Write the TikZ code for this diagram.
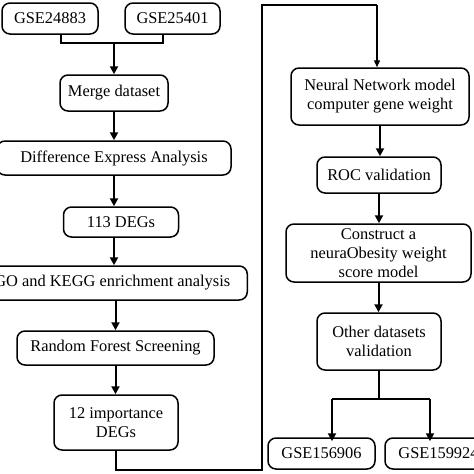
\documentclass[tikz,border=0pt]{standalone}
\usepackage{fontspec}
\setmainfont{Liberation Serif}
\usetikzlibrary{arrows.meta}
\tikzset{
flowbox/.style={draw, line width=1.5pt, rounded corners=8pt, align=center,
  inner sep=0pt, font=\fontsize{16.4}{19}\selectfont},
arr/.style={line width=2pt, -{Triangle[length=8pt,width=8pt]}},
link/.style={line width=1.4pt}
}

\begin{document}
\begin{tikzpicture}[x=1pt, y=-1pt]
\useasboundingbox (0,0) rectangle (474,474);
\clip (0,0) rectangle (474,474);
\fill[white] (0,0) rectangle (474,474);
% left column
\node[flowbox, minimum width=96pt, minimum height=31pt] (gsea) at (50,18.5) {GSE24883};
\node[flowbox, minimum width=95pt, minimum height=31pt] (gseb) at (172.5,18.5) {GSE25401};
\node[flowbox, minimum width=108pt, minimum height=36pt] (merge) at (114,93) {Merge dataset};
\node[flowbox, minimum width=234pt, minimum height=34pt] (diff) at (114,158) {Difference Express Analysis};
\node[flowbox, minimum width=115pt, minimum height=30pt] (degs) at (121,222) {113 DEGs};
\node[flowbox, minimum height=34pt, inner xsep=17pt, anchor=east] (gokegg) at (248,283) {GO and KEGG enrichment analysis};
\node[flowbox, minimum width=197pt, minimum height=34pt] (rf) at (115.5,348) {Random Forest Screening};
\node[flowbox, minimum width=124pt, minimum height=55pt] (imp) at (116,422.5) {12 importance\\DEGs};
% right column
\node[flowbox, minimum width=178pt, minimum height=57pt] (nn) at (380,96.5) {Neural Network model\\computer gene weight};
\node[flowbox, minimum width=124pt, minimum height=36pt] (roc) at (379,175) {ROC validation};
\node[flowbox, minimum width=185pt, minimum height=58pt] (cons) at (378.5,253) {Construct a\\neuraObesity weight\\score model};
\node[flowbox, minimum width=124pt, minimum height=57pt] (other) at (379,341.5) {Other datasets\\validation};
\node[flowbox, minimum width=107pt, minimum height=31pt] (gsec) at (321.5,453.5) {GSE156906};
\node[flowbox, minimum width=107pt, minimum height=31pt] (gsed) at (438.5,453.5) {GSE159924};

% connectors
\coordinate (bl) at (61,43);
\coordinate (br) at (163,43);
\draw[link] (gsea.south -| bl) -- (bl) -- (br) -- (gseb.south -| br);
\draw[arr] (merge.north |- bl) -- (merge.north);
\draw[arr] (merge.south) -- (merge.south |- diff.north);
\draw[arr] (diff.south) -- (diff.south |- degs.north);
\draw[arr] (diff.south |- degs.south) -- (diff.south |- gokegg.north);
\draw[arr] (rf.north |- gokegg.south) -- (rf.north);
\draw[arr] (rf.south) -- (rf.south |- imp.north);

\coordinate (c1) at (262,470);
\coordinate (c2) at (262,5);
\coordinate (c3) at (377,5);
\draw[link] (imp.south) |- (c1) -- (c2) -- (c3);
\draw[link, -{Triangle[length=7pt,width=6pt]}] (c3) -- (c3 |- nn.north);

\draw[arr] (nn.south) -- (nn.south |- roc.north);
\draw[arr] (roc.south) -- (roc.south |- cons.north);
\draw[arr] (cons.south) -- (cons.south |- other.north);
\coordinate (split) at (379,399);
\coordinate (sl) at (332,399);
\coordinate (sr) at (430,399);
\draw[line width=2pt] (other.south) -- (split);
\draw[line width=2pt] (sl) -- (sr);
\draw[arr] (sl) -- ([yshift=-4pt]sl |- gsec.north);
\draw[arr] (sr) -- ([yshift=-4pt]sr |- gsed.north);
\end{tikzpicture}
\end{document}
